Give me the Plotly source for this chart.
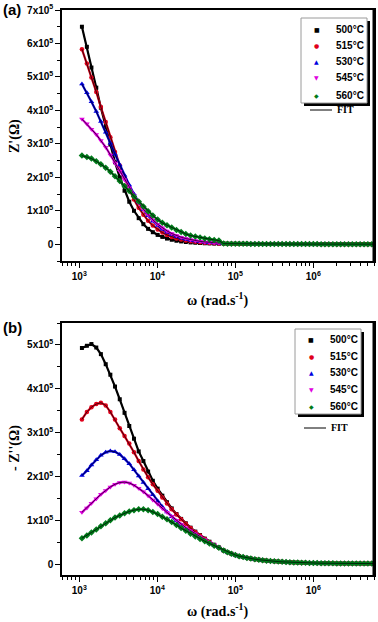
import plotly.graph_objects as go

# ---------------- data ----------------
FREQ_LOW = [1080, 1250, 1430, 1650, 1890, 2180, 2500, 2870, 3300, 3800,
            4370, 5020, 5770, 6630, 7620, 8760, 10100, 11600, 13300, 15300,
            17600, 20200, 23200, 26700, 30700, 35300, 40600, 46600, 53600, 61600]
FREQ_HIGH = [70800, 79400, 89100, 100000, 112000, 126000, 141000, 158000, 178000, 200000,
             224000, 251000, 282000, 316000, 355000, 398000, 447000, 501000, 562000, 631000,
             708000, 794000, 891000, 1000000, 1120000, 1260000, 1410000, 1580000, 1780000, 2000000,
             2240000, 2510000, 2820000, 3160000, 3550000, 3980000, 4470000, 5010000, 5620000, 6310000]

LABELS = ["500°C", "515°C", "530°C", "545°C", "560°C"]

# Z' (x1e5 ohm)
ZRE_500 = [6.50, 5.90, 5.28, 4.68, 4.08, 3.50, 2.98, 2.45, 2.00, 1.60, 1.27, 1.00, 0.78, 0.60, 0.46,
           0.36, 0.28, 0.22, 0.17, 0.135, 0.105, 0.085, 0.068, 0.055, 0.045, 0.037, 0.030, 0.025, 0.020, 0.017]
ZRE_515 = [5.83, 5.40, 4.98, 4.55, 4.10, 3.65, 3.20, 2.76, 2.35, 1.98, 1.64, 1.34, 1.09, 0.88, 0.70,
           0.56, 0.44, 0.35, 0.28, 0.22, 0.175, 0.14, 0.11, 0.09, 0.072, 0.058, 0.047, 0.038, 0.031, 0.025]
ZRE_530 = [4.79, 4.53, 4.26, 3.97, 3.67, 3.35, 3.02, 2.69, 2.37, 2.06, 1.77, 1.50, 1.26, 1.04, 0.85,
           0.69, 0.56, 0.45, 0.36, 0.29, 0.23, 0.185, 0.148, 0.118, 0.095, 0.076, 0.061, 0.049, 0.040, 0.032]
ZRE_545 = [3.74, 3.60, 3.44, 3.28, 3.10, 2.90, 2.67, 2.43, 2.18, 1.93, 1.68, 1.45, 1.24, 1.05, 0.88,
           0.73, 0.60, 0.49, 0.40, 0.32, 0.26, 0.21, 0.17, 0.135, 0.108, 0.087, 0.070, 0.056, 0.045, 0.037]
ZRE_560 = [2.65, 2.61, 2.56, 2.48, 2.39, 2.29, 2.17, 2.03, 1.89, 1.74, 1.59, 1.43, 1.28, 1.13, 0.99,
           0.86, 0.74, 0.64, 0.57, 0.50, 0.43, 0.37, 0.31, 0.26, 0.23, 0.20, 0.17, 0.15, 0.13, 0.11]
ZRE_HIGH = [0.020, 0.018, 0.016, 0.015, 0.014, 0.013, 0.012, 0.011, 0.010, 0.010,
            0.009, 0.009, 0.008, 0.008, 0.007, 0.007, 0.007, 0.006, 0.006, 0.006,
            0.005, 0.005, 0.005, 0.005, 0.005, 0.004, 0.004, 0.004, 0.004, 0.004,
            0.004, 0.003, 0.003, 0.003, 0.003, 0.003, 0.003, 0.003, 0.003, 0.003]

# -Z'' (x1e5 ohm)
ZIM_500 = [4.93, 4.98, 5.02, 4.94, 4.79, 4.56, 4.32, 4.05, 3.76, 3.45, 3.15, 2.86, 2.57, 2.35, 2.11,
           1.90, 1.72, 1.56, 1.41, 1.27, 1.14, 1.03, 0.93, 0.83, 0.74, 0.66, 0.58, 0.51, 0.44, 0.38]
ZIM_515 = [3.30, 3.47, 3.58, 3.65, 3.68, 3.62, 3.47, 3.30, 3.10, 2.92, 2.75, 2.55, 2.35, 2.16, 1.98,
           1.82, 1.67, 1.52, 1.38, 1.25, 1.13, 1.02, 0.92, 0.82, 0.73, 0.65, 0.57, 0.50, 0.43, 0.37]
ZIM_530 = [2.02, 2.13, 2.26, 2.38, 2.48, 2.55, 2.58, 2.56, 2.50, 2.40, 2.29, 2.15, 2.01, 1.86, 1.72,
           1.58, 1.44, 1.31, 1.19, 1.08, 0.98, 0.89, 0.80, 0.72, 0.65, 0.59, 0.53, 0.47, 0.42, 0.37]
ZIM_545 = [1.18, 1.28, 1.39, 1.49, 1.59, 1.68, 1.76, 1.82, 1.86, 1.87, 1.85, 1.80, 1.73, 1.65, 1.56,
           1.46, 1.37, 1.27, 1.18, 1.09, 1.00, 0.91, 0.83, 0.76, 0.69, 0.62, 0.56, 0.50, 0.44, 0.38]
ZIM_560 = [0.59, 0.65, 0.72, 0.79, 0.86, 0.93, 1.00, 1.06, 1.11, 1.16, 1.20, 1.23, 1.25, 1.25, 1.23,
           1.19, 1.14, 1.08, 1.02, 0.96, 0.89, 0.82, 0.76, 0.69, 0.63, 0.57, 0.52, 0.47, 0.42, 0.37]
ZIM_HIGH = [0.31, 0.27, 0.235, 0.205, 0.18, 0.16, 0.14, 0.125, 0.11, 0.098,
            0.087, 0.078, 0.07, 0.062, 0.056, 0.05, 0.045, 0.041, 0.037, 0.033,
            0.03, 0.027, 0.025, 0.023, 0.021, 0.019, 0.018, 0.017, 0.016, 0.015,
            0.014, 0.013, 0.012, 0.012, 0.011, 0.011, 0.010, 0.010, 0.010, 0.010]

ZRE_SERIES = [ZRE_500, ZRE_515, ZRE_530, ZRE_545, ZRE_560]
ZIM_SERIES = [ZIM_500, ZIM_515, ZIM_530, ZIM_545, ZIM_560]

YT_TOP = [0, 1, 2, 3, 4, 5, 6, 7]
YT_BOT = [0, 1, 2, 3, 4, 5]
XT = [3, 4, 5, 6]

# ---------------- style ----------------
COLORS = ["#000000", "#e0001b", "#0000e0", "#e000e0", "#007a1a"]
SYMBOLS = ["square", "circle", "triangle-up", "triangle-down", "diamond"]
GLYPHS = ["■", "●", "▲", "▼", "◆"]
SIZES = [4, 4.5, 5, 5, 5]
SANS = "Liberation Sans, Arial, sans-serif"
SERIF = "Liberation Serif, Times New Roman, serif"
SCALE = 1e5

fig = go.Figure()

x_all = FREQ_LOW + FREQ_HIGH
panels = [("x", "y", ZRE_SERIES, ZRE_HIGH), ("x2", "y2", ZIM_SERIES, ZIM_HIGH)]
for xa, ya, series, high in panels:
    for i, vals in enumerate(series):
        y_all = [v * SCALE for v in vals + high]
        fig.add_trace(go.Scatter(
            x=x_all, y=y_all, mode="lines+markers", name=LABELS[i],
            line=dict(color=COLORS[i], width=2.2),
            marker=dict(symbol=SYMBOLS[i], size=SIZES[i], color=COLORS[i], line=dict(width=0)),
            xaxis=xa, yaxis=ya, showlegend=False))
        fig.add_trace(go.Scatter(
            x=x_all, y=y_all, mode="lines", name="FIT",
            line=dict(color="black", width=0.7),
            xaxis=xa, yaxis=ya, showlegend=False))

W, H = 378, 622
def px_x(p):
    return p / W
def px_y(p):
    return 1 - p / H

xdom = [px_x(62), px_x(374)]
common_x = dict(type="log", range=[2.778, 6.778], domain=xdom, showline=True, linecolor="black",
                linewidth=1.5, mirror=True, ticks="outside", ticklen=5, tickwidth=1.2, tickcolor="black",
                tickmode="array", tickvals=[10 ** e for e in XT],
                ticktext=["10<sup>%d</sup>" % e for e in XT],
                tickfont=dict(family=SANS, size=10, color="black", weight="bold"),
                minor=dict(ticks="outside", ticklen=3, tickcolor="black", tickwidth=1, dtick="D1"),
                showgrid=False, zeroline=False, automargin=False)

def yaxis(domain, vals, rng):
    return dict(domain=domain, range=rng, showline=True, linecolor="black", linewidth=1.5, mirror=True,
                ticks="outside", ticklen=5, tickwidth=1.2, tickcolor="black",
                tickmode="array", tickvals=[v * SCALE for v in vals],
                ticktext=["0" if v == 0 else "%dx10<sup>5</sup>" % v for v in vals],
                tickfont=dict(family=SANS, size=10, color="black", weight="bold"),
                minor=dict(tickmode="linear", tick0=0, dtick=0.5 * SCALE, ticks="outside",
                           ticklen=3, tickcolor="black", tickwidth=1),
                showgrid=False, zeroline=False, automargin=False)

fig.update_layout(
    width=W, height=H, margin=dict(l=0, r=0, t=0, b=0, autoexpand=False),
    paper_bgcolor="white", plot_bgcolor="white",
    xaxis=dict(common_x, anchor="y"),
    xaxis2=dict(common_x, anchor="y2"),
    yaxis=yaxis([px_y(261), px_y(10)], YT_TOP, [-0.5 * SCALE, 7 * SCALE]),
    yaxis2=yaxis([px_y(575), px_y(323)], YT_BOT, [-0.25 * SCALE, 5.5 * SCALE]),
    showlegend=False,
)

# thick right border of each frame
for xr, yr in [("x domain", "y domain"), ("x2 domain", "y2 domain")]:
    fig.add_shape(type="line", xref=xr, yref=yr, x0=1, x1=1, y0=0, y1=1,
                  line=dict(color="black", width=3), layer="above")

ann = []
# hand-made legends (box with shadow, symbol glyphs, FIT line)
LEGENDS = [
    dict(box=(301, 367, 18, 103), rows=[30, 45.5, 61.5, 77.5, 95], sym_x=316.5, txt_x=334,
         fit_y=110, fit_x=(310, 332)),
    dict(box=(295, 361, 329, 414), rows=[339.5, 356, 372, 389, 406], sym_x=311, txt_x=328,
         fit_y=428, fit_x=(304, 326)),
]
for L in LEGENDS:
    bx0, bx1, by0, by1 = L["box"]
    fig.add_shape(type="rect", xref="paper", yref="paper", x0=px_x(bx0 + 3), x1=px_x(bx1 + 3),
                  y0=px_y(by1 + 3), y1=px_y(by0 + 3), fillcolor="black", line=dict(width=0), layer="above")
    fig.add_shape(type="rect", xref="paper", yref="paper", x0=px_x(bx0), x1=px_x(bx1),
                  y0=px_y(by1), y1=px_y(by0), fillcolor="white", line=dict(color="#9a9a9a", width=1),
                  layer="above")
    for i, ry in enumerate(L["rows"]):
        ann.append(dict(text=GLYPHS[i], x=px_x(L["sym_x"]), y=px_y(ry), xanchor="center", yanchor="middle",
                        font=dict(family="DejaVu Sans", size=6, color=COLORS[i])))
        ann.append(dict(text="<b>%s</b>" % LABELS[i], x=px_x(L["txt_x"]), y=px_y(ry), xanchor="left",
                        yanchor="middle", font=dict(family=SANS, size=10, color="black")))
    fx0, fx1 = L["fit_x"]
    fig.add_shape(type="line", xref="paper", yref="paper", x0=px_x(fx0), x1=px_x(fx1),
                  y0=px_y(L["fit_y"]), y1=px_y(L["fit_y"]), line=dict(color="black", width=1), layer="above")
    ann.append(dict(text="<b>FIT</b>", x=px_x(fx1 + 3), y=px_y(L["fit_y"] - 1), xanchor="left",
                    yanchor="middle", font=dict(family=SERIF, size=10, color="black")))

ann.append(dict(text="<b>(a)</b>", x=px_x(1), y=px_y(10), xanchor="left", yanchor="middle",
                font=dict(family=SANS, size=15, color="black")))
ann.append(dict(text="<b>(b)</b>", x=px_x(1), y=px_y(327), xanchor="left", yanchor="middle",
                font=dict(family=SANS, size=15, color="black")))
ann.append(dict(text="<b>Z'(Ω)</b>", x=px_x(15), y=px_y(136), textangle=-90, xanchor="center",
                yanchor="middle", font=dict(family=SERIF, size=14, color="black")))
ann.append(dict(text="<b>- Z''(Ω)</b>", x=px_x(15), y=px_y(448), textangle=-90, xanchor="center",
                yanchor="middle", font=dict(family=SERIF, size=14, color="black")))
ann.append(dict(text="<b>ω (rad.s<sup>-1</sup>)</b>", x=px_x(218), y=px_y(299), xanchor="center",
                yanchor="middle", font=dict(family=SERIF, size=14, color="black")))
ann.append(dict(text="<b>ω (rad.s<sup>-1</sup>)</b>", x=px_x(218), y=px_y(610), xanchor="center",
                yanchor="middle", font=dict(family=SERIF, size=14, color="black")))
for a in ann:
    a.update(xref="paper", yref="paper", showarrow=False)
fig.update_layout(annotations=ann)

fig.write_html("out.html", config={"displayModeBar": False},
               post_script="document.body.style.margin='0';document.body.style.padding='0';")
